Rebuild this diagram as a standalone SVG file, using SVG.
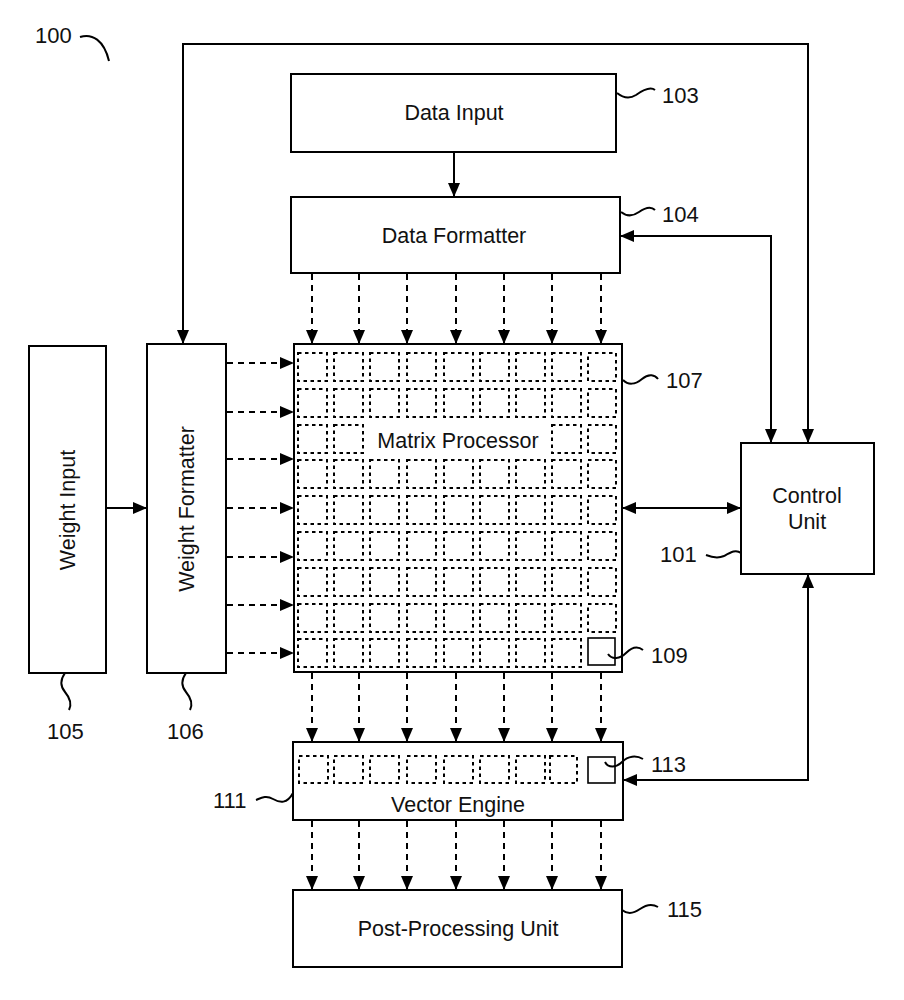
<svg xmlns="http://www.w3.org/2000/svg" width="904" height="1000" viewBox="0 0 904 1000">
<style>
.box{fill:#fff;stroke:#000;stroke-width:2}
.lbl{font-family:"Liberation Sans",Arial,sans-serif;font-size:21.5px;fill:#111;text-anchor:middle}
.num{font-family:"Liberation Sans",Arial,sans-serif;font-size:22px;fill:#111}
.ln{fill:none;stroke:#000;stroke-width:2}
.dash{fill:none;stroke:#000;stroke-width:2;stroke-dasharray:6,5}
.cell{fill:none;stroke:#000;stroke-width:2;stroke-dasharray:3.5,3.5}
.sq{fill:none;stroke:#000;stroke-width:1.6}
</style>
<defs>
<marker id="ah" markerWidth="14" markerHeight="12" refX="13" refY="6" orient="auto" markerUnits="userSpaceOnUse">
<path d="M0,0 L14,6 L0,12 Z" fill="#000"/>
</marker>
<marker id="as" markerWidth="14" markerHeight="12" refX="1" refY="6" orient="auto" markerUnits="userSpaceOnUse">
<path d="M14,0 L0,6 L14,12 Z" fill="#000"/>
</marker>
</defs>
<rect width="904" height="1000" fill="#fff"/>

<g id="connectors">
<line class="ln" x1="454" y1="152" x2="454" y2="196" marker-end="url(#ah)"/>
<line class="dash" x1="312" y1="274" x2="312" y2="343" marker-end="url(#ah)"/>
<line class="dash" x1="359" y1="274" x2="359" y2="343" marker-end="url(#ah)"/>
<line class="dash" x1="407" y1="274" x2="407" y2="343" marker-end="url(#ah)"/>
<line class="dash" x1="456" y1="274" x2="456" y2="343" marker-end="url(#ah)"/>
<line class="dash" x1="504" y1="274" x2="504" y2="343" marker-end="url(#ah)"/>
<line class="dash" x1="552" y1="274" x2="552" y2="343" marker-end="url(#ah)"/>
<line class="dash" x1="601" y1="274" x2="601" y2="343" marker-end="url(#ah)"/>
<line class="dash" x1="312" y1="673" x2="312" y2="741" marker-end="url(#ah)"/>
<line class="dash" x1="359" y1="673" x2="359" y2="741" marker-end="url(#ah)"/>
<line class="dash" x1="407" y1="673" x2="407" y2="741" marker-end="url(#ah)"/>
<line class="dash" x1="456" y1="673" x2="456" y2="741" marker-end="url(#ah)"/>
<line class="dash" x1="504" y1="673" x2="504" y2="741" marker-end="url(#ah)"/>
<line class="dash" x1="552" y1="673" x2="552" y2="741" marker-end="url(#ah)"/>
<line class="dash" x1="601" y1="673" x2="601" y2="741" marker-end="url(#ah)"/>
<line class="dash" x1="312" y1="821" x2="312" y2="889" marker-end="url(#ah)"/>
<line class="dash" x1="359" y1="821" x2="359" y2="889" marker-end="url(#ah)"/>
<line class="dash" x1="407" y1="821" x2="407" y2="889" marker-end="url(#ah)"/>
<line class="dash" x1="456" y1="821" x2="456" y2="889" marker-end="url(#ah)"/>
<line class="dash" x1="504" y1="821" x2="504" y2="889" marker-end="url(#ah)"/>
<line class="dash" x1="552" y1="821" x2="552" y2="889" marker-end="url(#ah)"/>
<line class="dash" x1="601" y1="821" x2="601" y2="889" marker-end="url(#ah)"/>
<line class="dash" x1="227" y1="363" x2="293" y2="363" marker-end="url(#ah)"/>
<line class="dash" x1="227" y1="412" x2="293" y2="412" marker-end="url(#ah)"/>
<line class="dash" x1="227" y1="459" x2="293" y2="459" marker-end="url(#ah)"/>
<line class="dash" x1="227" y1="508" x2="293" y2="508" marker-end="url(#ah)"/>
<line class="dash" x1="227" y1="557" x2="293" y2="557" marker-end="url(#ah)"/>
<line class="dash" x1="227" y1="605" x2="293" y2="605" marker-end="url(#ah)"/>
<line class="dash" x1="227" y1="653" x2="293" y2="653" marker-end="url(#ah)"/>
<line class="ln" x1="106" y1="508" x2="146" y2="508" marker-end="url(#ah)"/>
<polyline class="ln" points="183,343 183,44 808,44 808,442" marker-start="url(#as)" marker-end="url(#ah)"/>
<polyline class="ln" points="621,236 771,236 771,442" marker-start="url(#as)" marker-end="url(#ah)"/>
<line class="ln" x1="623" y1="508" x2="740" y2="508" marker-start="url(#as)" marker-end="url(#ah)"/>
<polyline class="ln" points="808,575 808,780 624,780" marker-start="url(#as)" marker-end="url(#ah)"/>
</g>

<g id="data-input">
<rect class="box" x="291" y="74" width="325" height="78"/>
<text class="lbl" x="454" y="120">Data Input</text>
</g>
<g id="data-formatter">
<rect class="box" x="291" y="197" width="329" height="76"/>
<text class="lbl" x="454" y="243">Data Formatter</text>
</g>
<g id="weight-input">
<rect class="box" x="29" y="346" width="77" height="327"/>
<text class="lbl" transform="translate(75,510) rotate(-90)">Weight Input</text>
</g>
<g id="weight-formatter">
<rect class="box" x="147" y="344" width="79" height="329"/>
<text class="lbl" transform="translate(194,509) rotate(-90)">Weight Formatter</text>
</g>
<g id="matrix-processor">
<rect class="box" x="294" y="344" width="328" height="328"/>
<g id="matrix-cells">
<g transform="translate(0,353)">
<rect class="cell" x="298" y="0" width="29" height="28"/><rect class="cell" x="334" y="0" width="29" height="28"/><rect class="cell" x="370" y="0" width="29" height="28"/><rect class="cell" x="407" y="0" width="29" height="28"/><rect class="cell" x="444" y="0" width="29" height="28"/><rect class="cell" x="480" y="0" width="29" height="28"/><rect class="cell" x="516" y="0" width="29" height="28"/><rect class="cell" x="552" y="0" width="29" height="28"/><rect class="cell" x="588" y="0" width="28" height="28"/>
</g>
<g transform="translate(0,389)">
<rect class="cell" x="298" y="0" width="29" height="28"/><rect class="cell" x="334" y="0" width="29" height="28"/><rect class="cell" x="370" y="0" width="29" height="28"/><rect class="cell" x="407" y="0" width="29" height="28"/><rect class="cell" x="444" y="0" width="29" height="28"/><rect class="cell" x="480" y="0" width="29" height="28"/><rect class="cell" x="516" y="0" width="29" height="28"/><rect class="cell" x="552" y="0" width="29" height="28"/><rect class="cell" x="588" y="0" width="28" height="28"/>
</g>
<g transform="translate(0,425)">
<rect class="cell" x="298" y="0" width="29" height="28"/><rect class="cell" x="334" y="0" width="29" height="28"/><rect class="cell" x="552" y="0" width="29" height="28"/><rect class="cell" x="588" y="0" width="28" height="28"/>
</g>
<g transform="translate(0,460)">
<rect class="cell" x="298" y="0" width="29" height="28"/><rect class="cell" x="334" y="0" width="29" height="28"/><rect class="cell" x="370" y="0" width="29" height="28"/><rect class="cell" x="407" y="0" width="29" height="28"/><rect class="cell" x="444" y="0" width="29" height="28"/><rect class="cell" x="480" y="0" width="29" height="28"/><rect class="cell" x="516" y="0" width="29" height="28"/><rect class="cell" x="552" y="0" width="29" height="28"/><rect class="cell" x="588" y="0" width="28" height="28"/>
</g>
<g transform="translate(0,496)">
<rect class="cell" x="298" y="0" width="29" height="28"/><rect class="cell" x="334" y="0" width="29" height="28"/><rect class="cell" x="370" y="0" width="29" height="28"/><rect class="cell" x="407" y="0" width="29" height="28"/><rect class="cell" x="444" y="0" width="29" height="28"/><rect class="cell" x="480" y="0" width="29" height="28"/><rect class="cell" x="516" y="0" width="29" height="28"/><rect class="cell" x="552" y="0" width="29" height="28"/><rect class="cell" x="588" y="0" width="28" height="28"/>
</g>
<g transform="translate(0,532)">
<rect class="cell" x="298" y="0" width="29" height="28"/><rect class="cell" x="334" y="0" width="29" height="28"/><rect class="cell" x="370" y="0" width="29" height="28"/><rect class="cell" x="407" y="0" width="29" height="28"/><rect class="cell" x="444" y="0" width="29" height="28"/><rect class="cell" x="480" y="0" width="29" height="28"/><rect class="cell" x="516" y="0" width="29" height="28"/><rect class="cell" x="552" y="0" width="29" height="28"/><rect class="cell" x="588" y="0" width="28" height="28"/>
</g>
<g transform="translate(0,568)">
<rect class="cell" x="298" y="0" width="29" height="28"/><rect class="cell" x="334" y="0" width="29" height="28"/><rect class="cell" x="370" y="0" width="29" height="28"/><rect class="cell" x="407" y="0" width="29" height="28"/><rect class="cell" x="444" y="0" width="29" height="28"/><rect class="cell" x="480" y="0" width="29" height="28"/><rect class="cell" x="516" y="0" width="29" height="28"/><rect class="cell" x="552" y="0" width="29" height="28"/><rect class="cell" x="588" y="0" width="28" height="28"/>
</g>
<g transform="translate(0,604)">
<rect class="cell" x="298" y="0" width="29" height="28"/><rect class="cell" x="334" y="0" width="29" height="28"/><rect class="cell" x="370" y="0" width="29" height="28"/><rect class="cell" x="407" y="0" width="29" height="28"/><rect class="cell" x="444" y="0" width="29" height="28"/><rect class="cell" x="480" y="0" width="29" height="28"/><rect class="cell" x="516" y="0" width="29" height="28"/><rect class="cell" x="552" y="0" width="29" height="28"/><rect class="cell" x="588" y="0" width="28" height="28"/>
</g>
<g transform="translate(0,639)">
<rect class="cell" x="298" y="0" width="29" height="28"/><rect class="cell" x="334" y="0" width="29" height="28"/><rect class="cell" x="370" y="0" width="29" height="28"/><rect class="cell" x="407" y="0" width="29" height="28"/><rect class="cell" x="444" y="0" width="29" height="28"/><rect class="cell" x="480" y="0" width="29" height="28"/><rect class="cell" x="516" y="0" width="29" height="28"/><rect class="cell" x="552" y="0" width="29" height="28"/>
</g>
</g>
<rect class="sq" x="588" y="638" width="27" height="27"/>
<text class="lbl" x="458" y="448" font-size="22.5">Matrix Processor</text>
</g>
<g id="control-unit">
<rect class="box" x="741" y="443" width="133" height="131"/>
<text class="lbl" x="807" y="503">Control</text>
<text class="lbl" x="807" y="529">Unit</text>
</g>
<g id="vector-engine">
<rect class="box" x="293" y="742" width="330" height="78"/>
<rect class="cell" x="299" y="756" width="29" height="27"/><rect class="cell" x="334" y="756" width="29" height="27"/><rect class="cell" x="370" y="756" width="29" height="27"/><rect class="cell" x="407" y="756" width="29" height="27"/><rect class="cell" x="444" y="756" width="29" height="27"/><rect class="cell" x="480" y="756" width="29" height="27"/><rect class="cell" x="516" y="756" width="29" height="27"/><rect class="cell" x="550" y="756" width="27" height="27"/>
<rect class="sq" x="588" y="757" width="27" height="26"/>
<text class="lbl" x="458" y="812">Vector Engine</text>
</g>
<g id="post-processing-unit">
<rect class="box" x="293" y="890" width="329" height="77"/>
<text class="lbl" x="458" y="936">Post-Processing Unit</text>
</g>

<g id="reference-labels">
<text class="num" x="35" y="43">100</text>
<path class="ln" d="M80,37 C92,33 104,40 109,61" stroke-width="1.6"/>
<text class="num" x="662" y="103">103</text>
<path class="ln" stroke-width="1.6" d="M617,93 C622,97 628,100 636,95 C643,90 650,86 655,90"/>
<text class="num" x="662" y="222">104</text>
<path class="ln" stroke-width="1.6" d="M621,212 C626,216 632,217 639,212 C646,207 651,206 655,210"/>
<text class="num" x="666" y="388">107</text>
<path class="ln" stroke-width="1.6" d="M623,380 C628,385 635,385 642,379 C649,373 655,375 658,379"/>
<text class="num" x="660" y="562">101</text>
<path class="ln" stroke-width="1.6" d="M706,555 C711,557 717,559 724,556 C731,552 736,549 741,553"/>
<text class="num" x="651" y="663">109</text>
<path class="ln" stroke-width="1.6" d="M608,654 C612,660 620,659 626,653 C632,647 638,646 643,650"/>
<text class="num" x="651" y="772">113</text>
<path class="ln" stroke-width="1.6" d="M605,762 C608,768 616,768 622,762 C628,756 636,755 643,759"/>
<text class="num" x="213" y="808">111</text>
<path class="ln" stroke-width="1.6" d="M256,800 C261,798 266,795 273,799 C280,803 287,804 293,793"/>
<text class="num" x="667" y="917">115</text>
<path class="ln" stroke-width="1.6" d="M622,910 C627,914 633,914 640,909 C647,904 653,904 658,907"/>
<text class="num" x="47" y="739">105</text>
<path class="ln" stroke-width="1.6" d="M65,673 C60,680 60,686 65,692 C70,698 72,704 69,710"/>
<text class="num" x="167" y="739">106</text>
<path class="ln" stroke-width="1.6" d="M186,673 C181,680 181,686 186,692 C191,698 193,704 190,710"/>
</g>
</svg>
